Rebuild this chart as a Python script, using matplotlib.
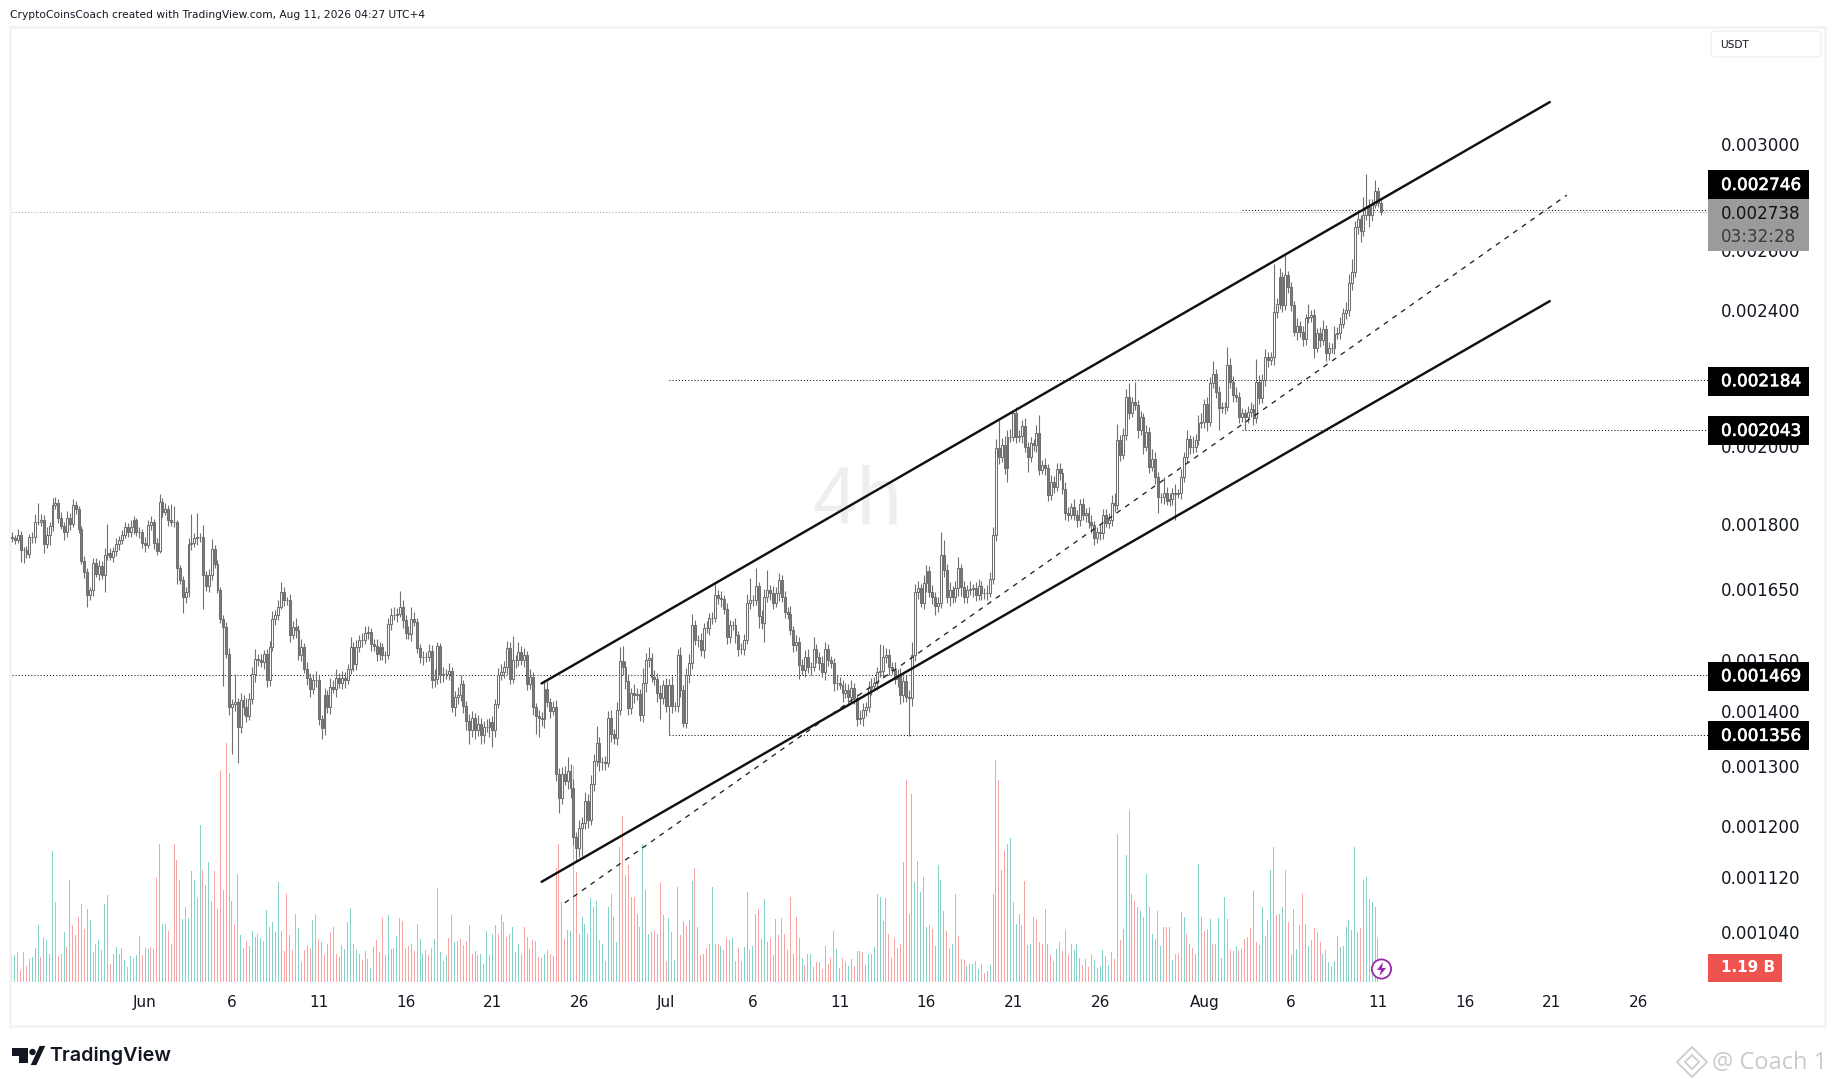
import numpy as np
import matplotlib
matplotlib.use("Agg")
import matplotlib.pyplot as plt
import matplotlib.patheffects as pe
from matplotlib.patches import Rectangle, Polygon, Circle, FancyBboxPatch
from matplotlib.transforms import Affine2D
from matplotlib.ticker import NullLocator

W, H = 1835, 1086
# prices in millionths of USDT
first_open = 1770
closes = [
1766,1762,1774,1738,1738,1729,1768,1770,1804,1806,
1810,1752,1774,1796,1847,1851,1816,1796,1780,1816,
1800,1847,1836,1789,1713,1688,1636,1647,1709,1684,
1702,1682,1727,1731,1723,1735,1752,1762,1774,1792,
1780,1792,1810,1780,1780,1754,1750,1798,1804,1754,
1737,1855,1830,1838,1810,1806,1804,1696,1669,1632,
1643,1752,1754,1766,1768,1768,1682,1656,1682,1740,
1707,1648,1585,1568,1512,1407,1413,1417,1370,1421,
1407,1391,1423,1472,1502,1499,1495,1512,1459,1525,
1585,1592,1611,1643,1625,1625,1550,1568,1561,1509,
1526,1482,1464,1443,1459,1459,1385,1369,1430,1407,
1447,1443,1464,1454,1464,1459,1482,1525,1492,1526,
1540,1540,1554,1557,1533,1528,1512,1525,1509,1509,
1574,1592,1592,1596,1611,1582,1554,1553,1585,1578,
1523,1505,1505,1505,1518,1459,1462,1527,1469,1472,
1472,1478,1407,1426,1430,1452,1410,1382,1365,1387,
1364,1376,1355,1371,1371,1379,1364,1413,1469,1475,
1485,1523,1462,1499,1499,1516,1499,1509,1452,1465,
1407,1391,1388,1385,1443,1417,1401,1407,1287,1246,
1286,1275,1292,1262,1182,1164,1197,1205,1241,1210,
1270,1310,1342,1308,1308,1306,1388,1357,1350,1403,
1498,1486,1457,1405,1434,1430,1432,1392,1453,1499,
1503,1465,1462,1434,1424,1450,1410,1450,1410,1410,
1509,1440,1378,1469,1494,1571,1540,1541,1519,1565,
1565,1586,1586,1636,1629,1627,1606,1546,1571,1571,
1550,1521,1521,1540,1620,1625,1625,1656,1590,1575,
1632,1647,1640,1618,1640,1670,1632,1600,1596,1561,
1530,1537,1490,1479,1506,1486,1486,1521,1506,1494,
1476,1521,1499,1494,1453,1453,1450,1434,1440,1427,
1444,1424,1386,1388,1403,1408,1444,1448,1453,1475,
1478,1506,1509,1486,1480,1461,1470,1430,1457,1427,
1424,1509,1643,1651,1620,1662,1690,1643,1632,1613,
1618,1727,1693,1632,1647,1632,1651,1697,1653,1632,
1647,1649,1651,1636,1656,1640,1641,1641,1673,1774,
1993,1970,2002,1942,2023,2023,2090,2023,2025,2055,
1996,1970,2007,2003,2035,1936,1949,1940,1872,1905,
1892,1938,1928,1887,1827,1822,1842,1822,1810,1849,
1822,1827,1805,1798,1767,1781,1779,1822,1803,1810,
1851,1847,2015,1975,2029,2135,2090,2120,2113,2042,
2078,1996,2037,1944,1965,1918,1867,1866,1877,1857,
1862,1877,1875,1877,1918,1970,2018,1996,1996,2015,
2063,2066,2114,2066,2175,2202,2149,2103,2106,2108,
2229,2178,2140,2135,2078,2089,2078,2092,2100,2075,
2178,2132,2184,2253,2244,2253,2393,2419,2508,2416,
2515,2474,2416,2330,2348,2330,2308,2373,2378,2383,
2280,2327,2305,2341,2265,2280,2280,2323,2327,2357,
2390,2400,2488,2525,2683,2713,2669,2728,2757,2728,
2765,2815,2773,2738,
]
upper_wick = [
12,8,15,10,8,10,8,10,20,45,
14,12,18,10,18,15,10,14,8,16,
12,15,10,8,6,12,10,8,12,10,
14,10,15,70,12,10,14,10,12,14,
10,18,10,6,12,8,14,12,16,8,
12,20,10,14,10,40,38,6,8,10,
12,14,70,12,58,10,30,8,12,25,
10,8,6,8,10,12,10,55,8,14,
10,18,12,14,20,10,12,8,10,14,
16,12,14,22,10,8,14,12,18,10,
16,8,14,10,12,18,10,8,14,10,
16,12,18,10,14,12,10,22,12,14,
10,14,16,12,8,10,14,12,10,8,
12,16,18,12,35,14,10,16,25,14,
8,10,12,10,14,12,20,10,8,14,
10,16,8,12,16,18,8,10,12,14,
10,16,12,10,14,8,12,10,14,16,
12,15,14,50,10,20,12,14,8,16,
10,8,12,10,16,14,8,12,14,10,
12,14,25,12,16,8,12,10,14,12,
14,12,30,10,8,10,12,14,10,14,
28,30,12,14,10,18,12,10,30,14,
22,10,14,12,16,10,14,12,18,8,
12,16,10,14,18,25,12,10,14,12,
16,12,14,25,12,16,10,14,12,10,
16,10,14,12,18,50,12,40,10,14,
18,45,12,16,15,15,12,14,10,16,
8,14,10,12,14,16,10,25,12,10,
14,15,12,8,10,16,12,10,14,12,
16,10,8,14,12,10,14,16,12,10,
55,25,14,12,10,16,12,14,10,12,
14,28,18,16,10,20,14,12,16,10,
14,55,35,12,18,10,16,25,10,14,
12,18,10,14,16,12,10,18,14,20,
25,76,18,25,20,22,5,16,18,15,
20,14,16,12,22,48,14,18,12,17,
14,17,16,12,18,14,10,20,12,14,
16,12,14,18,10,12,20,16,14,18,
22,25,45,15,18,22,42,16,58,14,
18,12,20,14,25,18,12,10,40,14,
16,12,22,10,20,14,25,12,30,18,
22,25,16,20,18,40,14,18,16,12,
55,20,18,25,14,16,12,18,20,14,
70,22,18,25,14,16,160,20,30,18,
70,15,18,12,25,16,20,14,40,18,
22,15,20,28,12,18,16,25,20,22,
18,25,30,45,22,25,14,65,123,30,
20,43,15,10,
]
lower_wick = [
8,10,6,28,30,10,8,12,14,6,
10,20,8,25,12,10,14,8,18,10,
14,8,12,10,6,14,25,10,12,8,
14,10,40,12,8,12,10,14,10,8,
12,10,16,8,14,10,16,8,12,14,
10,6,12,8,14,10,10,35,8,35,
12,10,14,8,16,10,77,10,14,12,
10,8,10,120,8,15,85,12,65,10,
14,12,8,10,16,12,10,14,12,10,
8,14,10,6,12,10,14,8,16,10,
12,8,14,16,10,12,10,20,14,10,
12,8,16,10,12,14,8,10,14,12,
10,14,8,12,16,10,14,12,10,16,
8,12,10,14,8,16,12,10,14,8,
10,12,16,10,8,14,12,10,16,14,
10,12,8,16,12,10,14,18,25,12,
16,10,15,14,10,18,30,12,8,10,
12,14,10,8,16,12,10,14,12,10,
14,34,35,12,16,10,14,8,12,25,
10,8,14,16,12,20,14,45,10,14,
8,12,10,16,14,12,8,14,10,12,
10,16,14,12,10,14,8,10,12,16,
14,10,12,16,38,10,12,54,14,10,
12,14,8,10,16,12,10,14,12,16,
10,14,12,8,12,16,10,14,12,10,
16,14,10,12,8,14,12,10,25,12,
38,10,14,12,8,16,10,14,12,10,
14,12,28,10,14,12,16,8,12,14,
10,16,12,10,14,12,8,16,10,14,
12,10,14,10,16,12,10,14,8,12,
10,14,12,16,8,10,14,16,12,10,
70,14,12,16,10,14,18,12,16,20,
14,10,16,12,20,14,10,16,18,12,
14,10,16,12,10,14,12,16,10,12,
14,18,12,16,37,14,10,16,12,18,
14,40,12,16,20,14,10,18,16,12,
14,10,18,12,16,14,10,12,18,14,
12,16,14,20,18,12,16,14,10,12,
14,18,12,16,10,14,18,12,16,20,
14,18,10,16,12,18,40,14,16,10,
12,14,65,10,16,12,14,18,16,12,
14,16,18,25,12,14,16,60,14,18,
12,16,20,14,16,12,35,16,14,18,
12,18,14,16,20,14,25,18,14,22,
16,20,18,12,25,16,20,18,14,16,
30,12,20,16,25,22,14,18,16,20,
14,18,20,22,16,25,40,18,20,45,
22,14,18,12,
]
# volume in tens of millions; positive = rising bar, negative = falling bar
signed_volume = [
75,72,-80,-32,-80,-43,61,67,91,153,-68,-118,113,75,353,-215,-69,-77,134,-94,
277,-153,-126,-175,-210,-142,196,167,-80,-102,113,-86,212,234,-50,75,94,77,91,59,
-40,69,-61,72,-123,-72,91,88,-94,-88,-280,372,158,158,-137,-102,-372,-331,-275,169,
204,172,299,275,-226,423,-304,-261,323,-218,-299,-196,-573,-248,-645,566,220,-158,291,126,
-91,-110,96,137,121,-131,118,-110,194,150,161,134,269,137,-83,-237,126,-86,-185,145,
-53,-86,-99,-91,167,-185,-115,107,-77,102,-134,150,-77,67,-99,88,161,199,104,86,
77,-59,83,-61,37,-94,-113,80,-172,-72,180,88,-91,123,-172,-164,-91,-96,102,-83,
-156,115,75,86,-72,-91,115,-253,80,-56,72,-118,-180,107,110,-115,-99,-110,153,-75,
83,-72,75,-50,137,-72,129,153,-131,180,161,-121,-131,150,80,102,-77,-148,-121,88,
-113,-110,-67,-64,75,-86,-77,69,-307,-372,215,-115,140,137,-585,-296,129,175,156,-129,
226,202,218,-113,104,-56,202,-237,-177,107,364,-450,-288,-315,231,-229,185,-148,372,250,
131,-134,-137,129,-269,180,-56,172,-134,59,256,-126,164,-152,167,272,-307,150,
-72,75,-91,104,256,102,-102,96,-86,-118,113,118,-56,-91,-56,94,242,-86,96,185,
-196,-115,223,107,-118,-72,169,-126,-172,-131,-86,-229,75,-177,-118,64,-45,-75,77,-40,
-53,53,-34,96,-48,-64,-137,88,37,-64,-53,42,61,-42,-83,83,-80,45,75,75,
94,239,229,164,-226,-131,-64,-118,-91,-102,323,-547,185,507,269,-326,242,285,148,-153,
-142,96,315,275,-191,-137,-91,102,239,-123,-61,-59,42,50,50,-56,34,-48,-23,29,
45,237,600,-547,304,-358,374,388,-215,156,183,-153,-272,99,102,175,-169,107,-102,-196,
104,-72,-56,88,-107,-83,-140,-77,102,86,102,64,-45,-61,-40,-75,59,-37,42,86,
-69,45,80,-61,401,-113,142,342,-464,239,-218,-204,191,-177,291,-204,129,-115,-191,96,
150,-150,148,59,-77,-75,188,177,-129,102,-91,75,320,177,-137,142,169,-102,-102,172,
64,231,-169,-86,-83,96,-83,88,-115,121,-145,245,-107,99,204,-123,167,302,366,-180,
183,202,-302,-161,-75,-196,88,-153,-237,156,96,-113,-145,134,-107,77,-86,53,42,56,
123,94,96,148,167,140,364,134,-145,275,283,-223,215,202,-118,
]
tick_positions = [46,76,106,136,166,196,226,256,286,316,346,376,412,442,472,502,532,562]
tick_labels = ["Jun","6","11","16","21","26","Jul","6","11","16","21","26","Aug","6","11","16","21","26"]
price_ticks = [3000,2600,2400,2000,1800,1650,1500,1400,1300,1200,1120,1040]
levels = [2746,2184,2043,1469,1356]
level_starts = [425,227,425,0,227]
current_price = 2738
channel_upper = ([183,531.4],[1453,3174])
channel_lower = ([183,531.4],[1113,2429])
channel_mid = ([191,537.3],[1082,2801])

closes_p = np.array(closes)*1e-6
opens_p = np.r_[first_open*1e-6, closes_p[:-1]]
top = np.maximum(opens_p,closes_p)
bot = np.minimum(opens_p,closes_p)
n = len(closes_p)
highs = top+np.array(upper_wick[:n])*1e-6
lows = bot-np.array(lower_wick[:n])*1e-6
xs = np.arange(n)

PX_LEFT,PX_RIGHT,PX_TOP,PX_BOT = 10,1825,27,1026
fig = plt.figure(figsize=(W/100,H/100),dpi=100,facecolor="white")
ax2 = fig.add_axes([PX_LEFT/W,1-PX_BOT/H,(PX_RIGHT-PX_LEFT)/W,(PX_BOT-PX_TOP)/H])
ax = fig.add_axes(ax2.get_position(),sharex=ax2)
ax.set_zorder(2); ax2.set_zorder(1); ax.patch.set_visible(False)

# volume pane, overlaid on the price pane
xlim = (-0.69,626.5)
ax2.set_xlim(*xlim)
ax2.set_ylim(-44/37,955/37)
vol = np.array(signed_volume)/100
vx = np.arange(len(vol))
ax2.bar(vx,np.abs(vol),width=0.345,color=["#86d2c8" if v>=0 else "#f9a5a3" for v in vol],linewidth=0,antialiased=False)
ax2.set_yticks([]); 
ax2.tick_params(axis="x",length=0,labelbottom=False)
for s in ax2.spines.values():
    s.set_color("#f2f2f2"); s.set_linewidth(1.8)

# price pane
ax.set_yscale("log")
ax.set_ylim(0.00091692,0.0035109)
ax.set_xlim(*xlim)
ax.set_axisbelow(True)
for s in ax.spines.values():
    s.set_visible(False)
wick_c = "#707070"
ax.vlines(xs,lows,highs,color=wick_c,linewidth=0.8,zorder=2)
ax.bar(xs,top-bot,bottom=bot,width=0.66,color=["#ffffff" if c>=o else "#7c7c7c" for o,c in zip(opens_p,closes_p)],
       edgecolor=wick_c,linewidth=0.75,zorder=3)

dot = (0,(1,2))
ax.hlines(current_price*1e-6,0,586,color="#a8a8a8",linewidth=0.75,linestyles=[dot],zorder=1.8)
for lv,st in zip(levels,level_starts):
    ax.hlines(lv*1e-6,st,586,color="#111111",linewidth=0.75,linestyles=[dot],zorder=1.9)

ax.plot(channel_upper[0],np.array(channel_upper[1])*1e-6,color="#111111",lw=1.75,solid_capstyle="round",zorder=4)
ax.plot(channel_lower[0],np.array(channel_lower[1])*1e-6,color="#111111",lw=1.75,solid_capstyle="round",zorder=4)
ax.plot(channel_mid[0],np.array(channel_mid[1])*1e-6,color="#222222",lw=0.95,ls=(0,(3.8,4.2)),zorder=4)

ax.yaxis.tick_right()
ax.yaxis.set_minor_locator(NullLocator())
ax.set_yticks([p*1e-6 for p in price_ticks])
ax.set_yticklabels([f"{p*1e-6:.6f}" for p in price_ticks],fontsize=12.1,color="#131722",family="DejaVu Sans")
ax.tick_params(axis="y",which="both",length=0,pad=-75,labelright=True,labelleft=False)
ax.set_xticks(tick_positions)
ax.set_xticklabels(tick_labels,fontsize=11,color="#131722",family="DejaVu Sans")
ax.tick_params(axis="x",length=0,pad=-22,labelbottom=True)

# pixel-space helpers for chrome
fig.canvas.draw()
px = Affine2D().scale(1,-1).translate(0,H)
def y_of(price):
    return H-ax.transData.transform((0,price*1e-6))[1]
def box(x0,y0,x1,y1,color,z=6):
    fig.add_artist(Rectangle((x0,y0),x1-x0,y1-y0,transform=px,facecolor=color,edgecolor="none",zorder=z))
def label(x,y,s,color="#131722",size=12.1,z=7,stroke=0,**kw):
    kw.setdefault("va","center"); kw.setdefault("ha","left")
    t = fig.text(x/W,1-y/H,s,color=color,fontsize=size,zorder=z,**kw)
    if stroke:
        t.set_path_effects([pe.withStroke(linewidth=stroke,foreground=color)])
    return t

# 4h watermark under everything
ax2.text(857/W,1-503/H,"4h",transform=fig.transFigure,fontsize=58,color="#eeeeee",family="Liberation Sans",
         ha="center",va="center",zorder=0.5)

# tags
tag_text_x = 1721
box(1708,170,1809,199,"#000000")
label(tag_text_x,185,"0.002746","#ffffff",stroke=0.45)
box(1708,199,1809,251,"#9b9b9b")
label(tag_text_x,214,"0.002738","#111111")
label(tag_text_x,237,"03:32:28","#3a3a3a")
for lv in levels[1:]:
    yc = y_of(lv)+1
    box(1708,yc-14.5,1809,yc+14.5,"#000000")
    label(tag_text_x,yc,f"{lv*1e-6:.6f}","#ffffff",stroke=0.45)
box(1708,954,1782,982,"#ef5350")
label(tag_text_x,968,"1.19 B","#ffffff",weight="bold",size=11)

# currency box
fig.add_artist(FancyBboxPatch((1713,33),106,22,boxstyle="round,pad=2,rounding_size=4",transform=px,
                              facecolor="white",edgecolor="#f0f0f0",linewidth=1,zorder=6))
label(1720,44.5,"USDT",size=7.6)

# header
label(10,15,"CryptoCoinsCoach created with TradingView.com, Aug 11, 2026 04:27 UTC+4",size=7.65)

# lightning badge
fig.add_artist(Circle((1381.5,969),9.6,transform=px,facecolor="white",edgecolor="#9c27b0",linewidth=1.3,zorder=6))
fig.add_artist(Polygon([(1383,962),(1377,970),(1381,970),(1379.5,976),(1386,968),(1382,968)],closed=True,
                       transform=px,facecolor="#9c27b0",edgecolor="none",zorder=7))

# TradingView logo
logo = "#131722"
fig.add_artist(Polygon([(12,1048),(28,1048),(28,1063),(19,1063),(19,1056),(12,1056)],closed=True,transform=px,facecolor=logo,edgecolor="none"))
fig.add_artist(Circle((32.5,1052),3.2,transform=px,facecolor=logo,edgecolor="none"))
fig.add_artist(Polygon([(34,1063),(41,1048),(42,1048),(42,1048),(35,1063)],closed=True,transform=px,facecolor=logo,edgecolor=logo,linewidth=3))
fig.text(49/W,1-1056/H,"TradingView",fontsize=14.2,fontweight="semibold",family="Inter",color=logo,va="center",ha="left")

# source watermark
wm = "#cacaca"
fig.add_artist(Polygon([(1692,1047),(1707,1062),(1692,1077),(1677,1062)],closed=True,transform=px,facecolor="none",edgecolor=wm,linewidth=1.2))
fig.add_artist(Polygon([(1692,1055),(1699,1062),(1692,1069),(1685,1062)],closed=True,transform=px,facecolor="none",edgecolor=wm,linewidth=1.2))
fig.text(1712/W,1-1063/H,"@ Coach 1",fontsize=17,family="Open Sans",color=wm,va="center",ha="left")

fig.savefig("out.png",dpi=100,facecolor="white")
